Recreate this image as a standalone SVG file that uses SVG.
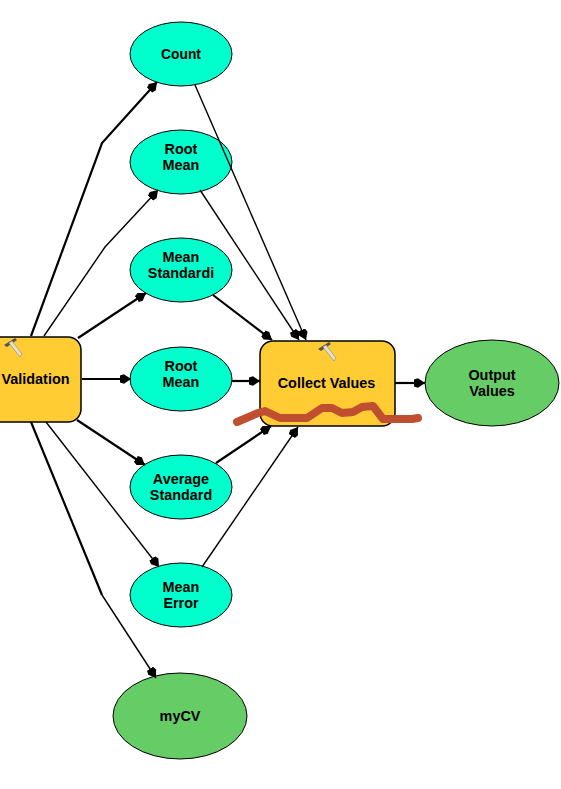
<svg xmlns="http://www.w3.org/2000/svg" width="561" height="789" viewBox="0 0 561 789">
<defs>
<marker id="a" markerUnits="userSpaceOnUse" markerWidth="13" markerHeight="11" refX="11" refY="5.500" orient="auto"><path d="M0 2L4 .8L11 5.500L4 10.200L0 9Z" fill="#000"/></marker>
<g id="hammer"><path d="M0 0L11 -7L13 -5L3 2Z" fill="#555"/><path d="M5 -2L8 -4L18 9L16 12Z" fill="#e8e0c8" stroke="#999" stroke-width=".8"/></g>
</defs>
<style>
text{font-family:"Liberation Sans",Arial,sans-serif;font-size:14.4px;font-weight:bold;text-anchor:middle;fill:#000}
.s{font-size:13.8px}
.c{fill:#00ffcc;stroke:#000;stroke-width:1}
.g{fill:#66cc66;stroke:#000;stroke-width:1}
.t{fill:#ffcc33;stroke:#000;stroke-width:1.5}
.l{fill:none;stroke:#000;stroke-width:1.4;marker-end:url(#a)}
.h{fill:none;stroke:#000;stroke-width:2.2;marker-end:url(#a)}
.n{fill:none;stroke:#000;stroke-width:2.2}
</style>
<rect width="561" height="789" fill="#fff"/>
<g id="validation"><rect class="t" x="-30" y="337" width="111" height="85" rx="13"/><use href="#hammer" x="4" y="345"/><text x="35.500" y="384">Validation</text></g>
<g id="count"><ellipse class="c" cx="181" cy="54" rx="51" ry="32"/><text class="s" x="181" y="59">Count</text></g>
<g id="root-mean-1"><ellipse class="c" cx="181" cy="162" rx="51" ry="32"/><text x="181" y="154">Root</text><text x="181" y="170">Mean</text></g>
<g id="mean-standardi"><ellipse class="c" cx="181" cy="270" rx="51" ry="32"/><text x="181" y="262">Mean</text><text x="181" y="278">Standardi</text></g>
<g id="root-mean-2"><ellipse class="c" cx="181" cy="379" rx="51" ry="32"/><text x="181" y="371">Root</text><text x="181" y="387">Mean</text></g>
<g id="average-standard"><ellipse class="c" cx="181" cy="487" rx="51" ry="32"/><text x="181" y="484">Average</text><text x="181" y="500">Standard</text></g>
<g id="mean-error"><ellipse class="c" cx="181" cy="595" rx="51" ry="32"/><text x="181" y="592">Mean</text><text x="181" y="608">Error</text></g>
<g id="mycv"><ellipse class="g" cx="180" cy="716" rx="67" ry="43"/><text x="180" y="721">myCV</text></g>
<g id="collect-values"><rect class="t" x="260" y="341" width="135" height="85" rx="13"/><use href="#hammer" x="318" y="349"/><text x="326.500" y="388">Collect Values</text></g>
<g id="output-values"><ellipse class="g" cx="492" cy="383" rx="67" ry="43"/><text x="492" y="380">Output</text><text x="492" y="396">Values</text></g>
<g id="connectors">
<path class="h" d="M31 336L102 143L157 82"/>
<path class="l" d="M44 336L105 247L158 190"/>
<path class="h" d="M78 338L146 293"/>
<path class="h" d="M82 379L131 379"/>
<path class="h" d="M77 420L145 465"/>
<path class="l" d="M46 422L159 567"/>
<path class="n" d="M31 422L102 595"/>
<path class="l" d="M102 595L156 678"/>
<path class="l" d="M195 85L306 340"/>
<path class="l" d="M200 190L299 340"/>
<path class="h" d="M213 295L272 340"/>
<path class="h" d="M232 381L260 381"/>
<path class="h" d="M216 463L271 426"/>
<path class="l" d="M202 567L298 427"/>
<path class="h" d="M395 383L425 383"/>
</g>
<path id="scribble" d="M237 422L258 413L265 411L280 418L307 418L322 408L332 408L342 413L353 412L362 407L373 406L383 419L412 419L418 418" fill="none" stroke="#c04f30" stroke-width="8" stroke-linecap="round" stroke-linejoin="round"/>
</svg>
